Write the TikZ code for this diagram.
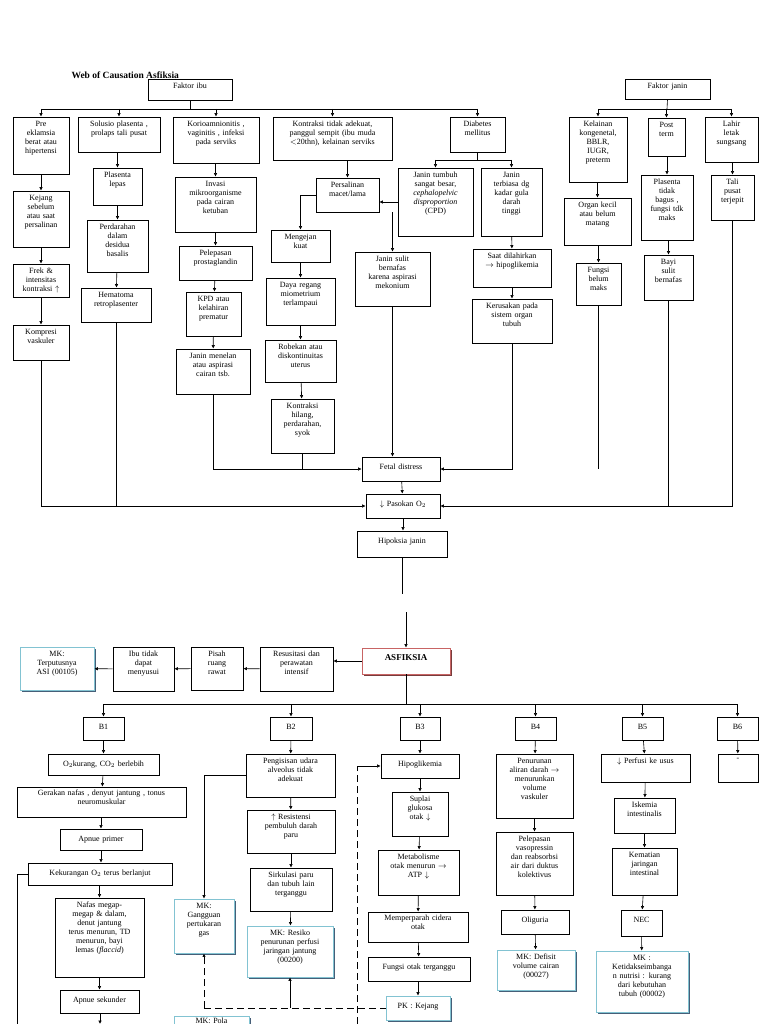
\documentclass[tikz,border=0pt]{standalone}
\usepackage{fontspec}
\setmainfont{Liberation Serif}
\usetikzlibrary{arrows.meta,shadows}
\hyphenpenalty=10000
\exhyphenpenalty=10000
\definecolor{mkblue}{RGB}{130,195,210}
\definecolor{shad}{RGB}{70,95,120}
\definecolor{asfred}{RGB}{200,100,100}
\tikzset{
 box/.style={draw,line width=0.8pt,inner sep=0pt},
 txt/.style={inner sep=0pt,align=center,font=\fontsize{8}{8.9}\selectfont},
 one/.style={yshift=-3pt},
 mk/.style={draw=mkblue,line width=0.9pt,fill=white,drop shadow={shadow xshift=2pt,shadow yshift=-2pt,fill=shad,opacity=1}},
 arr/.style={-{Latex[length=3.5pt,width=3.5pt]},line width=0.6pt},
 ln/.style={line width=0.6pt},
 dsh/.style={line width=1pt,dash pattern=on 7pt off 4pt}
}
\newcommand\mybox[8][]{%
 \pgfmathsetmacro\cx{(#3+#5)/2}\pgfmathsetmacro\cy{(#4+#6)/2}%
 \pgfmathsetmacro\ww{#5-#3}\pgfmathsetmacro\hh{#6-#4}\pgfmathsetmacro\tw{#5-#3-3}%
 \node[box,minimum width=\ww pt,minimum height=\hh pt,#1] (#2) at (\cx,\cy) {};
 \node[txt,text width=\tw pt,anchor=north,#8] (#2t) at ([yshift=-4.5pt]#2.north) {#7};}
\begin{document}
\begin{tikzpicture}[x=1pt,y=-1pt]
\useasboundingbox (0,0) rectangle (768,1024);
\fill[white] (0,0) rectangle (768,1024);
\node[font=\bfseries\fontsize{9.5}{11}\selectfont,anchor=west] (title) at (68,75) {Web of Causation Asfiksia};
% top
\mybox{fi}{148}{79}{232}{100}{Faktor ibu}{}
\mybox{pe}{13}{117}{69}{174}{Pre\\eklamsia\\berat atau\\hipertensi}{}
\mybox{so}{78}{117}{160}{152}{Solusio plasenta ,\\prolaps tali pusat}{}
\mybox{ko}{173}{117}{259}{163}{Korioamnionitis ,\\vaginitis , infeksi\\pada serviks}{}
\mybox{kt}{273}{117}{392}{160}{Kontraksi tidak adekuat,\\panggul sempit (ibu muda\\$<$20thn), kelainan serviks}{}
\mybox{dm}{450}{117}{505}{152}{Diabetes\\mellitus}{}
\mybox{fj}{625}{79}{710}{99}{Faktor janin}{}
\mybox{kl}{569}{117}{627}{182}{Kelainan\\kongenetal,\\BBLR,\\IUGR,\\preterm}{}
\mybox{pt}{648}{118}{685}{156}{Post\\term}{}
\mybox{ll}{705}{117}{758}{162}{Lahir\\letak\\sungsang}{}
% col1
\mybox{kj}{13}{191}{69}{247}{Kejang\\sebelum\\atau saat\\persalinan}{}
\mybox{fr}{13}{264}{69}{297}{Frek \&\\intensitas\\kontraksi $\uparrow$}{}
\mybox{kv}{13}{325}{69}{360}{Kompresi\\vaskuler}{}
% col2
\mybox{pl}{93}{168}{142}{205}{Plasenta\\lepas}{}
\mybox{pd}{87}{220}{148}{272}{Perdarahan\\dalam\\desidua\\basalis}{}
\mybox{hm}{81}{288}{151}{322}{Hematoma\\retroplasenter}{}
% col3
\mybox{iv}{175}{177}{256}{232}{Invasi\\mikroorganisme\\pada cairan\\ketuban}{}
\mybox{pp}{179}{246}{252}{280}{Pelepasan\\prostaglandin}{}
\mybox{kp}{186}{292}{241}{336}{KPD atau\\kelahiran\\prematur}{}
\mybox{jm}{176}{349}{250}{394}{Janin menelan\\atau aspirasi\\cairan tsb.}{}
% col4
\mybox{pm}{316}{178}{379}{212}{Persalinan\\macet/lama}{}
\mybox{mj}{271}{230}{330}{262}{Mengejan\\kuat}{}
\mybox{dr}{266}{278}{335}{325}{Daya regang\\miometrium\\terlampaui}{}
\mybox{rb}{265}{340}{336}{382}{Robekan atau\\diskontinuitas\\uterus}{}
\mybox{kh}{271}{399}{334}{453}{Kontraksi\\hilang,\\perdarahan,\\syok}{}
\mybox{js}{355}{252}{430}{306}{Janin sulit\\bernafas\\karena aspirasi\\mekonium}{}
\mybox{jt}{398}{168}{473}{236}{Janin tumbuh\\sangat besar,\\\textit{cephalopelvic}\\\textit{disproportion}\\(CPD)}{}
\mybox{jb}{481}{168}{542}{236}{Janin\\terbiasa dg\\kadar gula\\darah\\tinggi}{}
\mybox{sd}{473}{249}{551}{287}{Saat dilahirkan\\$\rightarrow$ hipoglikemia}{}
\mybox{ks}{472}{299}{552}{343}{Kerusakan pada\\sistem organ\\tubuh}{}
\mybox{ok}{564}{198}{631}{245}{Organ kecil\\atau belum\\matang}{}
\mybox{fb}{576}{263}{621}{305}{Fungsi\\belum\\maks}{}
\mybox{pb}{641}{175}{693}{240}{Plasenta\\tidak\\bagus ,\\fungsi tdk\\maks}{}
\mybox{bs}{644}{255}{693}{300}{Bayi\\sulit\\bernafas}{}
\mybox{tp}{711}{175}{754}{220}{Tali\\pusat\\terjepit}{}
% middle
\mybox{fd}{362}{457}{440}{481}{Fetal distress}{one}
\mybox{po}{366}{494}{440}{518}{$\downarrow$ Pasokan O$_2$}{one}
\mybox{hj}{357}{531}{447}{557}{Hipoksia janin}{one}
\mybox[draw=asfred,drop shadow={shadow xshift=2pt,shadow yshift=-2pt,fill=asfred!60!black,opacity=1},fill=white]{asf}{362}{648}{450}{674}{ASFIKSIA}{font=\bfseries\fontsize{9}{10}\selectfont,yshift=-2pt}
\mybox{rs}{260}{647}{333}{691}{Resusitasi dan\\perawatan\\intensif}{}
\mybox{pr}{191}{647}{243}{690}{Pisah\\ruang\\rawat}{}
\mybox{it}{113}{647}{174}{691}{Ibu tidak\\dapat\\menyusui}{}
\mybox[mk]{mt}{20}{647}{94}{690}{MK:\\Terputusnya\\ASI (00105)}{}
% B row
\mybox{b1}{83}{717}{124}{740}{B1}{one}
\mybox{b2}{270}{717}{312}{740}{B2}{one}
\mybox{b3}{400}{717}{440}{740}{B3}{one}
\mybox{b4}{515}{717}{556}{740}{B4}{one}
\mybox{b5}{622}{717}{663}{740}{B5}{one}
\mybox{b6}{717}{717}{758}{740}{B6}{one}
% B1
\mybox{o2}{48}{754}{159}{775}{O$_2$kurang, CO$_2$ berlebih}{one}
\mybox{gn}{17}{787}{186}{817}{Gerakan nafas , denyut jantung , tonus\\neuromuskular}{yshift=1pt}
\mybox{ap}{60}{829}{142}{850}{Apnue primer}{one}
\mybox{ku}{28}{863}{172}{885}{Kekurangan O$_2$ terus berlanjut}{one}
\mybox{nm}{55}{898}{144}{977}{Nafas megap-\\megap \& dalam,\\denut jantung\\terus menurun, TD\\menurun, bayi\\lemas (\textit{flaccid})}{}
\mybox{as}{60}{990}{139}{1013}{Apnue sekunder}{one}
% B2
\mybox{pu}{246}{754}{335}{797}{Pengisisan udara\\alveolus tidak\\adekuat}{}
\mybox{rp}{247}{810}{335}{853}{$\uparrow$\ Resistensi\\pembuluh darah\\paru}{}
\mybox{sp}{250}{868}{332}{911}{Sirkulasi paru\\dan tubuh lain\\terganggu}{}
\mybox[mk]{mr}{247}{926}{333}{977}{MK: Resiko\\penurunan perfusi\\jaringan jantung\\(00200)}{}
\mybox[mk]{mg}{174}{899}{234}{953}{MK:\\Gangguan\\pertukaran\\gas}{}
\mybox[mk]{mp}{174}{1016}{249}{1030}{MK: Pola}{yshift=2pt}
% B3
\mybox{hg}{381}{754}{459}{778}{Hipoglikemia}{one}
\mybox{sg}{392}{792}{448}{836}{Suplai\\glukosa\\otak $\downarrow$}{}
\mybox{mo}{378}{850}{459}{895}{Metabolisme\\otak menurun $\rightarrow$\\ATP $\downarrow$}{}
\mybox{mc}{368}{912}{468}{942}{Memperparah cidera\\otak}{yshift=1pt}
\mybox{fo}{368}{957}{470}{981}{Fungsi otak terganggu}{one}
\mybox[mk]{pk}{386}{996}{450}{1020}{PK : Kejang}{one}
% B4
\mybox{pa}{496}{754}{573}{818}{Penurunan\\aliran darah $\rightarrow$\\menurunkan\\volume\\vaskuler}{}
\mybox{pv}{496}{832}{573}{895}{Pelepasan\\vasopressin\\dan reabsorbsi\\air dari duktus\\kolektivus}{}
\mybox{ol}{501}{910}{569}{934}{Oliguria}{one}
\mybox[mk]{md}{497}{950}{575}{990}{MK: Defisit\\volume cairan\\(00027)}{}
% B5
\mybox{pf}{601}{754}{690}{782}{$\downarrow$ Perfusi ke usus}{}
\mybox{ik}{614}{798}{675}{833}{Iskemia\\intestinalis}{}
\mybox{kjn}{612}{848}{677}{895}{Kematian\\jaringan\\intestinal}{}
\mybox{nec}{621}{910}{662}{936}{NEC}{one}
\mybox[mk]{mkn}{596}{951}{688}{1012}{MK :\\Ketidakseimbanga\\n nutrisi : kurang\\dari kebutuhan\\tubuh (00002)}{}
\mybox{b6x}{718}{754}{758}{782}{-}{}
% ---- connectors top
\draw[ln] (fi.south) -- (190,109);
\draw[ln] (pe.north |- 0,109) -- (dm.north |- 0,109);
\foreach \n in {pe,so,ko,kt,dm} \draw[arr] (\n.north |- 0,109) -- (\n.north);
\draw[ln] (fj.south) -- (667,109);
\draw[ln] (kl.north |- 0,109) -- (ll.north |- 0,109);
\foreach \n in {kl,pt,ll} \draw[arr] (\n.north |- 0,109) -- (\n.north);
\draw[arr] (pe) -- (kj); \draw[arr] (kj) -- (fr); \draw[arr] (fr) -- (kv);
\draw[arr] (so.south -| pl.north) -- (pl); \draw[arr] (pl) -- (pd); \draw[arr] (pd) -- (hm);
\draw[arr] (ko.south -| iv.north) -- (iv); \draw[arr] (iv) -- (pp); \draw[arr] (pp) -- (kp); \draw[arr] (kp) -- (jm);
\draw[arr] (kt.south -| pm.north) -- (pm.north);
\draw[arr] (pm.west) -| (mj.north);
\draw[arr] (mj) -- (dr); \draw[arr] (dr) -- (rb); \draw[arr] (rb) -- (kh);
\draw[arr] (pm.south -| js.north) -- (js.north);
\draw[arr] (jt.west) -- (jt.west -| pm.east);
\draw[ln] (dm.south) -- (477.5,160);
\draw[ln] (jt.north |- 0,160) -- (jb.north |- 0,160);
\draw[arr] (jt.north |- 0,160) -- (jt.north);
\draw[arr] (jb.north |- 0,160) -- (jb.north);
\draw[arr] (jb) -- (sd); \draw[arr] (sd) -- (ks);
\draw[arr] (kl.south -| ok.north) -- (ok.north); \draw[arr] (ok.south -| fb.north) -- (fb.north);
\draw[arr] (pt.south -| pb.north) -- (pb.north); \draw[arr] (pb.south -| bs.north) -- (bs.north);
\draw[arr] (ll.south -| tp.north) -- (tp.north);
% to fetal distress / pasokan
\draw[arr] (jm.south) |- (fd.west);
\draw[ln] (kh.south) -- (kh.south |- fd.west);
\draw[arr] (js.south) -- (js.south |- fd.north);
\draw[arr] (ks.south) |- (fd.east);
\draw[ln] (fb.south) -- (fb.south |- fd.east);
\draw[arr] (kv.south) |- (po.west);
\draw[ln] (hm.south) -- (hm.south |- po.west);
\draw[arr] (tp.south) |- (po.east);
\draw[ln] (bs.south) -- (bs.south |- po.east);
\draw[arr] (fd) -- (po); \draw[arr] (po.south) -- (po.south |- hj.north);
\coordinate (g1) at (402,594); \coordinate (g2) at (406,612);
\draw[ln] (hj.south) -- (g1);
\draw[arr] (g2) -- (asf.north);
\draw[arr] (asf.west) -- (asf.west -| rs.east); \draw[arr] (rs) -- (pr); \draw[arr] (pr) -- (it); \draw[arr] (it) -- (mt);
\draw[ln] (asf.south) -- (406,704);
\draw[ln] (b1.north |- 0,704) -- (b6.north |- 0,704);
\foreach \n in {b1,b2,b3,b4,b5,b6} \draw[arr] (\n.north |- 0,704) -- (\n.north);
\draw[arr] (b1) -- (o2); \draw[arr] (o2) -- (gn); \draw[arr] (gn.south -| ap.north) -- (ap); \draw[arr] (ap.south) -- (ap.south |- ku.north);
\draw[arr] (ku.south -| nm.north) -- (nm.north); \draw[arr] (nm.south -| as.north) -- (as.north);
\coordinate (bb) at (100,1024); \draw[arr] (as.south -| bb) -- (bb);
\draw[ln] (ku.west) -| (17,1024);
\draw[arr] (b2) -- (pu); \draw[arr] (pu) -- (rp); \draw[arr] (rp) -- (sp); \draw[arr] (sp) -- (mr);
\draw[arr] (pu.west) -| (mg.north);
\coordinate (d1) at (204,1008); \coordinate (d2) at (290,1008); \coordinate (d3) at (357,1024); \coordinate (d4) at (357,766);
\draw[dsh] (d1) -- (pk.west);
\draw[dsh,-{Latex[length=3.5pt,width=3.5pt]}] (d1) -- (d1 |- mg.south);
\draw[arr] (d2) -- (d2 |- mr.south);
\draw[dsh] (d3) -- (d4);
\draw[arr] (d4) -- (hg.west);
\draw[arr] (b3) -- (hg); \draw[arr] (hg) -- (sg); \draw[arr] (sg) -- (mo); \draw[arr] (mo) -- (mc); \draw[arr] (mc) -- (fo); \draw[arr] (fo.south -| pk.north) -- (pk.north);
\draw[arr] (b4) -- (pa); \draw[arr] (pa) -- (pv); \draw[arr] (pv) -- (ol); \draw[arr] (ol) -- (md);
\draw[arr] (b5) -- (pf); \draw[arr] (pf) -- (ik); \draw[arr] (ik) -- (kjn); \draw[arr] (kjn) -- (nec); \draw[arr] (nec) -- (mkn);
\draw[arr] (b6) -- (b6x);
\end{tikzpicture}
\end{document}
